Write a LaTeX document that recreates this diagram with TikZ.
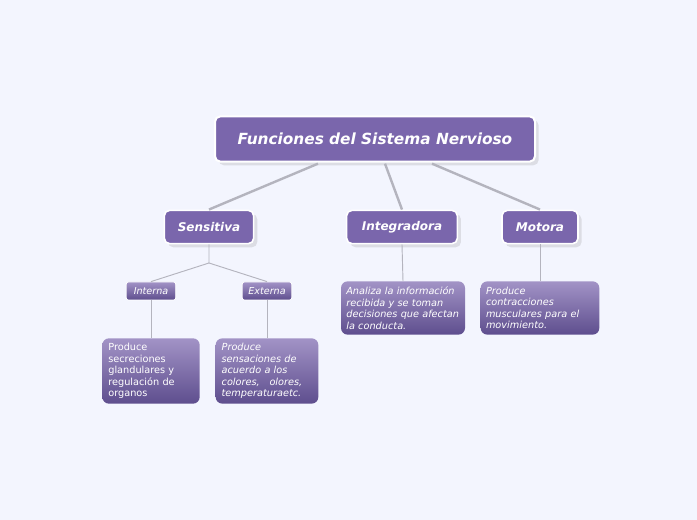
\documentclass[tikz,border=0pt]{standalone}
\usepackage{fontspec}
\setmainfont{DejaVu Sans}
\usetikzlibrary{shadows}
\definecolor{bg}{HTML}{F3F5FE}
\definecolor{pur}{HTML}{7A66AC}
\definecolor{purl}{HTML}{A293C6}
\definecolor{purd}{HTML}{5E4E8E}
\definecolor{ln}{HTML}{B4B4BE}
\begin{document}
\begin{tikzpicture}[x=0.75pt,y=-0.75pt,
  main/.style={draw=white,line width=1.5pt,fill=pur,rounded corners=4pt,text=white,font=\bfseries\itshape,drop shadow={opacity=0.2}},
  sub/.style={draw=white,line width=1.2pt,fill=pur,rounded corners=4pt,text=white,font=\fontsize{9}{11}\selectfont\bfseries\itshape,drop shadow={opacity=0.2}},
  small/.style={draw=white,line width=0.6pt,top color=purl,bottom color=purd,rounded corners=1.5pt,text=white,font=\fontsize{7.2}{8}\selectfont\itshape},
  leaf/.style={top color=purl,bottom color=purd,rounded corners=5pt,text=white,align=left,inner sep=0pt,font=\fontsize{7.3}{8.6}\selectfont},
  con/.style={ln,line width=1.8pt},
  thin/.style={ln,line width=0.7pt}]
\fill[bg] (0,0) rectangle (697,520);
\node[main,minimum width=240pt,minimum height=34pt,font=\fontsize{11.5}{13}\selectfont\bfseries\itshape] (root) at (375,139) {Funciones del Sistema Nervioso};
\node[sub,minimum width=67pt,minimum height=25pt] (sen) at (209,227) {Sensitiva};
\node[sub,minimum width=83pt,minimum height=25pt] (int) at (402,227) {Integradora};
\node[sub,minimum width=57pt,minimum height=25pt] (mot) at (540,227) {Motora};
\node[small,minimum width=37pt,minimum height=13.5pt] (in) at (151,291) {Interna};
\node[small,minimum width=37pt,minimum height=13.5pt] (ex) at (267,291) {Externa};
\node[leaf,minimum width=73pt,minimum height=49pt,text width=64pt] (l1) at (151,371) {Produce\\secreciones\\glandulares y\\regulación de\\organos};
\node[leaf,minimum width=77pt,minimum height=49pt,text width=68pt,font=\fontsize{7.3}{8.6}\selectfont\itshape] (l2) at (267,371) {Produce\\sensaciones de\\acuerdo a los\\colores,\quad olores,\\temperaturaetc.};
\node[leaf,minimum width=93pt,minimum height=40pt,text width=85pt,font=\fontsize{7.3}{8.6}\selectfont\itshape] (l3) at (403,308) {Analiza la información\\recibida y se toman\\decisiones que afectan\\la conducta.};
\node[leaf,minimum width=89pt,minimum height=40pt,text width=81pt,font=\fontsize{7.3}{8.6}\selectfont\itshape] (l4) at (540,308) {Produce\\contracciones\\musculares para el\\movimiento.};
\coordinate (j) at (209,263);
\draw[con] (root.south) ++(-57,1) -- (sen.north);
\draw[con] (root.south) ++(10,1) -- (int.north);
\draw[con] (root.south) ++(57,1) -- (mot.north);
\draw[thin] (sen.south) -- (j) -- (in.north);
\draw[thin] (j) -- (ex.north);
\draw[thin] (in.south) -- (l1.north);
\draw[thin] (ex.south) -- (l2.north);
\draw[thin] (int.south) -- (l3.north);
\draw[thin] (mot.south) -- (l4.north);
\end{tikzpicture}
\end{document}
